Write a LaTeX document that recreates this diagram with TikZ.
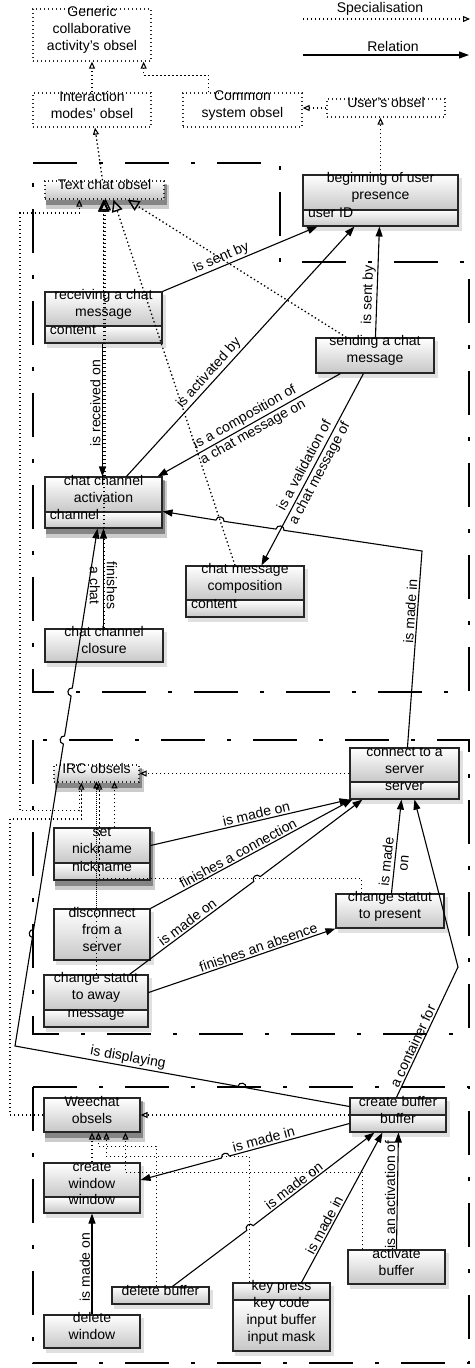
\documentclass[tikz,border=0pt]{standalone}
\usepackage{fontspec}
\setmainfont{Liberation Sans}
\usetikzlibrary{fit,arrows.meta}
\newcommand\diagfont{\fontsize{14}{17}\selectfont}
\newcommand\leftattr[2]{\hbox to #1{\hskip5pt #2\hfil}}
\tikzset{
  obs/.style={draw=black!85, line width=1.1pt, inner sep=0pt, top color=white, bottom color=black!22, font=\diagfont, align=center},
  dotbox/.style={draw=black!85, line width=1.3pt, dash pattern=on 1.4pt off 2.6pt, inner sep=0pt, font=\diagfont, align=center},
  greybox/.style={dotbox, top color=white, bottom color=black!22},
  blur/.style={fill=black, opacity=#1},
  rel/.style={line width=1.1pt, -{Triangle[length=10pt,width=7pt]}},
  spec/.style={line width=1.3pt, dash pattern=on 1.4pt off 2.6pt, -{Triangle[open,length=7pt,width=6pt,line width=1.1pt]}},
  bigspec/.style={line width=1.3pt, dash pattern=on 1.4pt off 2.6pt, -{Triangle[open,length=12pt,width=11pt,line width=1.4pt]}},
  zone/.style={line width=2.6pt, dash pattern=on 44pt off 22pt on 4pt off 22pt},
  lab/.style={font=\diagfont, inner sep=1.5pt},
  hop/.style={bend left=90, looseness=1.6}
}
\begin{document}
\begin{tikzpicture}[x=1pt,y=1pt,yscale=-1]
\useasboundingbox (0,0) rectangle (474,1368);

% zones
\draw[zone] (33,163) -- (280,163) -- (280,262) -- (469,262) -- (469,692) -- (33,692) -- cycle;
\draw[zone] (33,740) rectangle (469,1034);
\draw[zone] (33,1087) rectangle (469,1363);

% shadows of the boxes
\foreach \xa/\ya/\xb/\yb in {303/175/458/226, 45/292/162/343, 316/338/434/373, 186/566/304/617, 45/629/163/662, 350/748/459/799, 54/909/150/960, 44/975/148/1027, 336/894/444/928, 350/1098/446/1132, 44/1163/140/1213, 44/1315/140/1348, 112/1287/209/1304, 233/1283/330/1351, 348/1250/445/1284}
  \fill[blur=0.12] (\xa+2,\ya+3) rectangle (\xb+4,\yb+5);
\foreach \xa/\ya/\xb/\yb in {45/477/162/528, 54/828/150/880, 44/1098/140/1132, 45/181/164/199, 54/765/139/782}{
  \fill[blur=0.2] (\xa+1,\ya+4) rectangle (\xb+5,\yb+10);
  \fill[blur=0.35] (\xa+1,\ya+3) rectangle (\xb+3,\yb+6);
}

% legend
\node[lab] (speclab) at (380,9) {Specialisation};
\node[lab] (rellab) at (393,46) {Relation};
\coordinate (spa) at (303,19);
\coordinate (spb) at (470,19);
\coordinate (rea) at (303,55);
\coordinate (reb) at (469,55);
\draw[spec] (spa) -- (spb);
\draw[rel] (rea) -- (reb);

% generic obsels
\node[dotbox, fit={(33,9) (151,61)}] (generic) {Generic\\collaborative\\activity's obsel};
\node[dotbox, fit={(33,93) (151,127)}] (inter) {Interaction\\modes' obsel};
\node[dotbox, fit={(183,93) (302,127)}] (common) {Common\\system obsel};
\node[dotbox, fit={(327,99) (445,117)}] (user) {User's obsel};

% text chat
\node[greybox, fit={(45,181) (164,199)}] (text) {Text chat obsel};
\node[obs, fit={(303,175) (458,210)}] (beg) {beginning of user\\presence};
\node[obs, fit={(303,210) (458,226)}] (begatt) {\leftattr{155pt}{user ID}};
\node[obs, fit={(45,292) (162,326)}] (rec) {receiving a chat\\message};
\node[obs, fit={(45,326) (162,343)}] (recatt) {\leftattr{117pt}{content}};
\node[obs, fit={(316,338) (434,373)}] (send) {sending a chat\\message};
\node[obs, fit={(45,477) (162,512)}] (act) {chat channel\\activation};
\node[obs, fit={(45,512) (162,528)}] (actatt) {\leftattr{117pt}{channel}};
\node[obs, fit={(186,566) (304,600)}] (comp) {chat message\\composition};
\node[obs, fit={(186,600) (304,617)}] (compatt) {\leftattr{118pt}{content}};
\node[obs, fit={(45,629) (163,662)}] (clo) {chat channel\\closure};

% irc
\node[greybox, fit={(54,765) (139,782)}] (irc) {IRC obsels};
\node[obs, fit={(350,748) (459,782)}] (con) {connect to a\\server};
\node[obs, fit={(350,782) (459,799)}] (conatt) {server};
\node[obs, fit={(54,828) (150,863)}] (nick) {set\\nickname};
\node[obs, fit={(54,863) (150,880)}] (nickatt) {nickname};
\node[obs, fit={(54,909) (150,960)}] (disc) {disconnect\\from a\\server};
\node[obs, fit={(44,975) (148,1010)}] (away) {change statut\\to away};
\node[obs, fit={(44,1010) (148,1027)}] (awayatt) {message};
\node[obs, fit={(336,894) (444,928)}] (pres) {change statut\\to present};

% weechat
\node[obs, fit={(44,1098) (140,1132)}] (wee) {Weechat\\obsels};
\node[obs, fit={(350,1098) (446,1115)}] (buf) {create buffer};
\node[obs, fit={(350,1115) (446,1132)}] (bufatt) {buffer};
\node[obs, fit={(44,1163) (140,1197)}] (win) {create\\window};
\node[obs, fit={(44,1197) (140,1213)}] (winatt) {window};
\node[obs, fit={(44,1315) (140,1348)}] (delwin) {delete\\window};
\node[obs, fit={(112,1287) (209,1304)}] (delbuf) {delete buffer};
\node[obs, fit={(233,1283) (330,1300)}] (key) {key press};
\node[obs, fit={(233,1300) (330,1351)}] (keyatt) {key code\\input buffer\\input mask};
\node[obs, fit={(348,1250) (445,1284)}] (actb) {activate\\buffer};

% specialisations
\draw[spec] (inter.north) -- (generic.south);
\draw[spec] ([xshift=-34pt]common.north) -- ++(0,-17) -| ([xshift=-8pt]generic.south east);
\draw[spec] (user.west) -- (user.west -| common.east);
\draw[spec] (beg.north) -- (beg.north |- user.south);
\draw[spec] ([xshift=-2pt]text.north) -- ([xshift=3pt]inter.south);
\draw[bigspec] (rec.north) -- (rec.north |- text.south);
\draw[bigspec] ([xshift=2pt]act.north) -- ++(0,-278);
\draw[bigspec] (clo.north) -- (clo.north |- text.south);
\draw[bigspec] ([xshift=-10pt]comp.north) -- ([xshift=9pt]text.south);
\draw[bigspec] ([xshift=31pt]send.north west) -- ([xshift=23pt]text.south);
\draw[spec] ([xshift=26pt]irc.south west) -- ++(0,28) -| (20,213) -| ([xshift=35pt]text.south west);
\draw[spec] (wee.west) -| (10,819) -| ([xshift=28pt]irc.south west);
\draw[spec] (irc.east -| con.west) -- (irc.east);
\draw[spec] ([xshift=61pt]nick.north west) -- ++(0,-46);
\draw[spec] ([xshift=43pt]disc.north west) -- ++(0,-127);
\draw[spec] ([xshift=53pt]away.north west) -- ++(0,-193);
\draw[spec] ([xshift=26pt]pres.north west) -- ++(0,-15) -| ([xshift=46pt]irc.south west);
\draw[spec] (win.north) -- (wee.south);
\draw[spec] ([xshift=45pt]delbuf.north west) -- ++(0,-140) -| ([xshift=55pt]wee.south west);
\draw[spec] ([xshift=17pt]key.north west) -- ++(0,-126) -| ([xshift=63pt]wee.south west);
\draw[spec] ([xshift=15pt]actb.north west) -- ++(0,-77) -| ([xshift=82pt]wee.south west);
\draw[spec] (wee.east -| buf.west) -- (wee.east);

% relations
\draw[rel] (rec.north east) -- node[lab, rotate=23, anchor=south, pos=.4] {is sent by} ([xshift=15pt]begatt.south west);
\draw[rel] ([xshift=60pt]send.north west) -- node[lab, rotate=88, anchor=south, pos=.38] {is sent by} ([xshift=77pt]begatt.south west);
\draw[rel] ([xshift=82pt]act.north west) -- node[lab, rotate=48, anchor=south, pos=.39] {is activated by} ([xshift=52pt]begatt.south west);
\draw[rel] ([xshift=58pt]recatt.south west) -- node[lab, rotate=90, anchor=south, pos=.45] {is received on} ([xshift=58pt]act.north west);
\draw[rel] ([xshift=25pt]send.south west) -- node[lab, rotate=29.5, align=center] {is a composition of\\a chat message on} ([xshift=-5pt]act.north east);
\draw[rel] ([xshift=48pt]send.south west) -- node[lab, rotate=62, align=center] {is a validation of\\a chat message of} ([xshift=76pt]comp.north west);
\draw[rel] ([xshift=59pt]clo.north west) -- node[lab, rotate=-90, align=center, pos=.43] {finishes\\a chat} ([xshift=59pt]actatt.south west);
\draw[rel] (buf.west) -- (246,1087.7) to[hop] (238,1086.3) -- node[lab, rotate=-10.2, anchor=south, pos=.5] {is displaying} (15,1046)
  -- (32.4,937.5) to[hop, bend left=-90] (33.6,929.6) -- (63.4,744) to[hop, bend left=-90] (64.6,736) -- (71.1,696) to[hop, bend left=-90] (72.3,688) -- ([xshift=53pt]actatt.south west);
\draw[rel] ([xshift=58pt]con.north west) -- node[lab, rotate=86, anchor=south, pos=.69] {is made in} (422,551) -- (284,530.3) to[hop] (276,529.1) -- (224,521.3) to[hop] (216,520.1) -- (actatt.north east);
\draw[rel] (nick.east) -- node[lab, rotate=13, anchor=south, pos=.54] {is made on} (conatt.south west);
\draw[rel] (disc.north east) -- node[lab, rotate=28.4, anchor=south, pos=.45] {finishes a connection} ([xshift=3pt]conatt.south west);
\draw[rel] ([xshift=86pt]away.north west) -- node[lab, rotate=37, anchor=south, pos=.5] {is made on} (253.8,881.4) to[hop, bend left=-90] (260.2,876.6) -- ([xshift=13pt]conatt.south west);
\draw[rel] (away.east) -- node[lab, rotate=19, anchor=south, pos=.6] {finishes an absence} (pres.south west);
\draw[rel] ([xshift=56pt]pres.north west) -- node[lab, rotate=84, align=center, pos=.33] {is made\\on} ([xshift=52pt]conatt.south west);
\draw[rel] ([xshift=47pt]buf.north west) -- node[lab, rotate=65, anchor=south, pos=.37] {a container for} (458,967) -- ([xshift=65pt]conatt.south west);
\draw[rel] (bufatt.west) -- node[lab, rotate=15, anchor=south, pos=.7] {is made in} (229.4,1156) to[hop] (221.6,1158) -- (win.east);
\draw[rel] ([xshift=61pt]delbuf.north west) -- (246.8,1230.4) to[hop, bend left=-90] (253.2,1225.6) -- node[lab, rotate=37.5, anchor=south, pos=.37] {is made on} ([xshift=25pt]bufatt.south west);
\draw[rel] ([xshift=69pt]key.north west) -- node[lab, rotate=62, anchor=south, pos=.36] {is made in} ([xshift=33pt]bufatt.south west);
\draw[rel] ([xshift=49pt]actb.north west) -- node[lab, rotate=90, anchor=south, pos=.47] {is an activation of} ([xshift=49pt]bufatt.south west);
\draw[rel] (delwin.north) -- node[lab, rotate=90, anchor=south, pos=.47] {is made on} (winatt.south);
\end{tikzpicture}
\end{document}
